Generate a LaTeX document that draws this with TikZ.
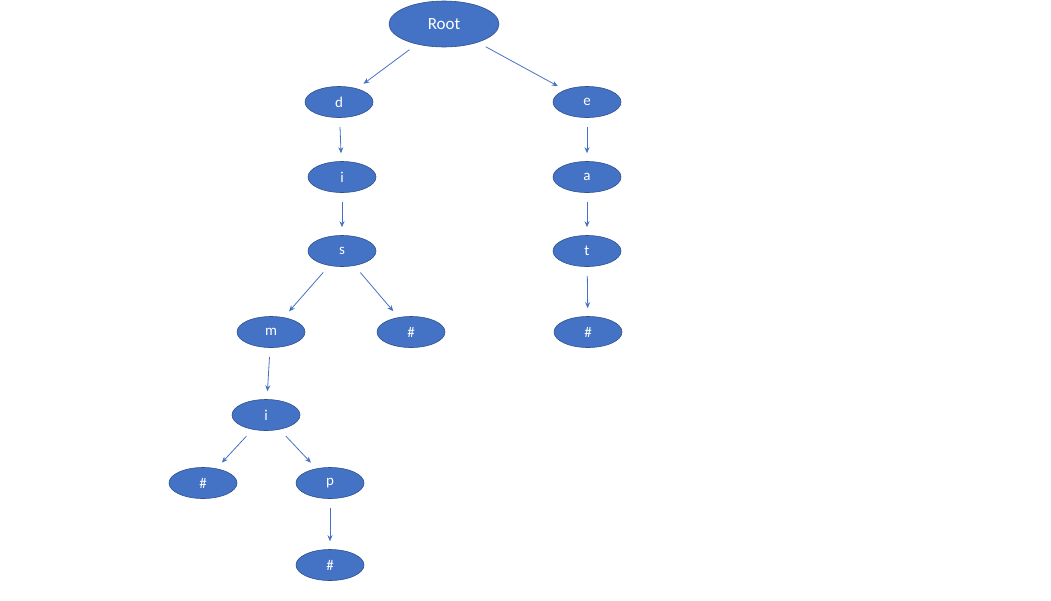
\documentclass[tikz,border=0pt]{standalone}
\usepackage{fontspec}
\setmainfont{Carlito}
\usetikzlibrary{arrows.meta,shapes.geometric}
\definecolor{nfill}{HTML}{4472C4}
\definecolor{nedge}{HTML}{2F528F}
\begin{document}
\begin{tikzpicture}[x=1pt,y=-1pt,
  nd/.style={ellipse,fill=nfill,draw=nedge,line width=0.6pt,text=white,minimum width=68pt,minimum height=31pt,inner sep=0pt,font=\fontsize{15}{18}\selectfont},
  ar/.style={-{Stealth[length=6pt,width=5pt]},draw=nfill,line width=0.8pt,shorten <=9pt,shorten >=8pt}]
\useasboundingbox (0,0) rectangle (1051,600);
\node[nd,minimum width=110pt,minimum height=46pt,font=\fontsize{17}{20}\selectfont] (root) at (444,24) {Root};
\node[nd] (d) at (339,102) {d};
\node[nd] (e) at (587,102) {e};
\node[nd] (i) at (342,177) {i};
\node[nd] (a) at (587,177) {a};
\node[nd] (s) at (342,251) {s};
\node[nd] (t) at (587,251) {t};
\node[nd] (m) at (271,332) {m};
\node[nd] (h1) at (411,332) {\#};
\node[nd] (h2) at (588,332) {\#};
\node[nd] (i2) at (266,415) {i};
\node[nd] (h3) at (203,483) {\#};
\node[nd] (p) at (330,483) {p};
\node[nd] (h4) at (330,565) {\#};
\draw[ar] (root) -- (d);
\draw[ar] (root) -- (e);
\draw[ar] (d) -- (i);
\draw[ar] (i) -- (s);
\draw[ar] (e) -- (a);
\draw[ar] (a) -- (t);
\draw[ar] (t) -- (h2);
\draw[ar] (s) -- (m);
\draw[ar] (s) -- (h1);
\draw[ar] (m) -- (i2);
\draw[ar] (i2) -- (h3);
\draw[ar] (i2) -- (p);
\draw[ar] (p) -- (h4);
\end{tikzpicture}
\end{document}
